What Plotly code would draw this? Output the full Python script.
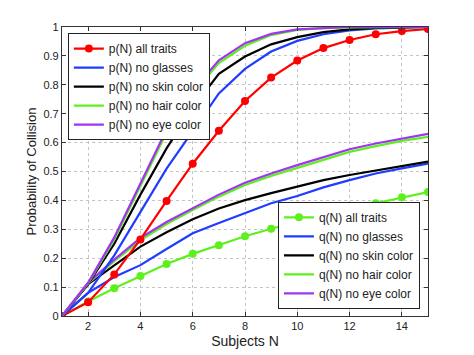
import plotly.graph_objects as go

N = list(range(1, 16))

p_all = [0, 0.048, 0.144, 0.265, 0.398, 0.527, 0.641, 0.744, 0.825, 0.884, 0.927, 0.955, 0.975, 0.986, 0.993]
p_noglasses = [0, 0.08, 0.21, 0.36, 0.51, 0.64, 0.77, 0.855, 0.915, 0.952, 0.975, 0.988, 0.995, 0.998, 1.0]
p_noskin = [0, 0.11, 0.25, 0.42, 0.58, 0.72, 0.838, 0.898, 0.94, 0.965, 0.982, 0.992, 0.997, 0.999, 1.0]
p_nohair = [0, 0.113, 0.265, 0.45, 0.635, 0.77, 0.875, 0.935, 0.972, 0.99, 0.996, 0.999, 1.0, 1.0, 1.0]
p_noeye = [0, 0.115, 0.272, 0.457, 0.645, 0.78, 0.885, 0.944, 0.976, 0.992, 0.997, 1.0, 1.0, 1.0, 1.0]

q_all = [0, 0.05, 0.096, 0.138, 0.18, 0.215, 0.245, 0.276, 0.302, 0.326, 0.349, 0.371, 0.39, 0.411, 0.429]
q_noglasses = [0, 0.08, 0.135, 0.176, 0.232, 0.286, 0.322, 0.355, 0.39, 0.415, 0.445, 0.47, 0.493, 0.511, 0.527]
q_noskin = [0, 0.11, 0.175, 0.24, 0.29, 0.335, 0.372, 0.401, 0.425, 0.447, 0.47, 0.488, 0.503, 0.52, 0.534]
q_nohair = [0, 0.113, 0.19, 0.262, 0.318, 0.367, 0.413, 0.453, 0.485, 0.513, 0.542, 0.568, 0.588, 0.606, 0.62]
q_noeye = [0, 0.115, 0.195, 0.27, 0.325, 0.373, 0.42, 0.461, 0.493, 0.522, 0.55, 0.577, 0.597, 0.614, 0.63]

RED = "#ff0000"
BLUE = "#1f3cff"
BLACK = "#000000"
GREEN = "#5ef01e"
PURPLE = "#a035f0"

fig = go.Figure()

p_series = [
    ("p(N) all traits", p_all, RED, True),
    ("p(N) no glasses", p_noglasses, BLUE, False),
    ("p(N) no skin color", p_noskin, BLACK, False),
    ("p(N) no hair color", p_nohair, GREEN, False),
    ("p(N) no eye color", p_noeye, PURPLE, False),
]
q_series = [
    ("q(N) all traits", q_all, GREEN, True),
    ("q(N) no glasses", q_noglasses, BLUE, False),
    ("q(N) no skin color", q_noskin, BLACK, False),
    ("q(N) no hair color", q_nohair, GREEN, False),
    ("q(N) no eye color", q_noeye, PURPLE, False),
]

for name, ys, col, mk in q_series:
    fig.add_trace(go.Scatter(
        x=N, y=ys, name=name, legend="legend2",
        mode="lines+markers" if mk else "lines",
        line=dict(color=col, width=2.2),
        marker=dict(size=8, color=col),
    ))
for name, ys, col, mk in p_series:
    fig.add_trace(go.Scatter(
        x=N, y=ys, name=name, legend="legend",
        mode="lines+markers" if mk else "lines",
        line=dict(color=col, width=2.2),
        marker=dict(size=8, color=col),
    ))

axis_common = dict(
    showline=True, linecolor="#333333", linewidth=1.2, mirror="ticks",
    ticks="inside", ticklen=4, tickcolor="#333333",
    showgrid=True, gridcolor="#c4c4c4", griddash="dot", gridwidth=1,
    zeroline=False, automargin=False,
    tickfont=dict(family="Liberation Sans, Arial", size=11, color="#222222"),
)

fig.update_layout(
    width=466, height=347,
    margin=dict(l=54, r=46, t=19, b=39),
    paper_bgcolor="white", plot_bgcolor="white",
    font=dict(family="Liberation Sans, Arial", color="#222222"),
    xaxis=dict(range=[1, 15], tickvals=[2, 4, 6, 8, 10, 12, 14],
               title=dict(text="Subjects N", font=dict(size=14), standoff=4),
               **axis_common),
    yaxis=dict(range=[0, 1], dtick=0.1,
               title=dict(text="Probability of Collision", font=dict(size=13), standoff=3),
               **axis_common),
    legend=dict(x=0.016, y=0.979, xanchor="left", yanchor="top",
                bgcolor="white", bordercolor="#222222", borderwidth=1,
                font=dict(size=12), tracegroupgap=0, traceorder="normal"),
    legend2=dict(x=0.978, y=0.025, xanchor="right", yanchor="bottom",
                 bgcolor="white", bordercolor="#222222", borderwidth=1,
                 font=dict(size=12), tracegroupgap=0, traceorder="normal"),
)

fig.write_html("out.html")
